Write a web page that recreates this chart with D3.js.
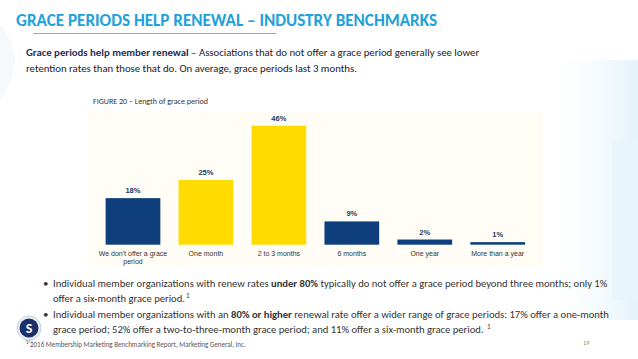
<!DOCTYPE html>
<html>
<head>
<meta charset="utf-8">
<script src="https://cdn.jsdelivr.net/npm/d3@7"></script>
<style>
  body { margin: 0; background: #fff; }
  svg { display: block; }
</style>
</head>
<body>
<svg class="chart"></svg>
<script>
// chart data
var categories = ["We don't offer a grace period", "One month", "2 to 3 months", "6 months", "One year", "More than a year"];
var shares = [18, 25, 46, 9, 2, 1];
var highlight = [false, true, true, false, false, false];

var W = 638, H = 359;
var svg = d3.select(".chart").attr("width", W).attr("height", H);
var font = "Calibri, Carlito, 'Open Sans', 'Noto Sans', sans-serif";
var lastSize = 11;

// draws a run of text pieces (some bold) one after another, scaled to fit a width
function textRun(parent, x0, y0, parts, target, size) {
    var g = parent.append("g");
    function lay(fs) {
        g.selectAll("*").remove();
        var cx = x0;
        parts.forEach(function(p) {
            var t = g.append("text").attr("x", cx).attr("y", y0).attr("font-size", fs)
                .attr("font-weight", p[1] ? "bold" : null)
                .attr("fill", p[2] || null)
                .attr("xml:space", "preserve").style("white-space", "pre").text(p[0]);
            cx += t.node().getComputedTextLength();
        });
        return cx - x0;
    }
    var w = lay(size);
    lastSize = size;
    if (target) { lastSize = size * target / w; w = lay(lastSize); }
    return x0 + w;
}

// soft background decoration
var defs = svg.append("defs");
var g1 = defs.append("linearGradient").attr("id", "rside").attr("x1", 0).attr("x2", 1);
g1.append("stop").attr("offset", 0).attr("stop-color", "#ffffff").attr("stop-opacity", 0);
g1.append("stop").attr("offset", 1).attr("stop-color", "#dcf0f9");
svg.append("rect").attr("x", 540).attr("y", 60).attr("width", 98).attr("height", 260)
    .attr("fill", "url(#rside)").attr("opacity", 0.8);
svg.append("rect").attr("x", 612).attr("y", 140).attr("width", 26).attr("height", 160)
    .attr("fill", "#e8f6fc");
svg.append("path").attr("d", "M0,25 Q30,60 0,100 Z").attr("fill", "#f5f9fc");

// title
svg.append("text").attr("x", 16).attr("y", 26)
    .attr("font-family", font).attr("font-weight", "bold").attr("font-size", 19)
    .attr("fill", "#1ea0db").attr("textLength", 421).attr("lengthAdjust", "spacingAndGlyphs")
    .text("GRACE PERIODS HELP RENEWAL \u2013 INDUSTRY BENCHMARKS");
svg.append("line").attr("x1", 33).attr("x2", 276).attr("y1", 33.5).attr("y2", 33.5)
    .attr("stroke", "#8cc63f").attr("stroke-width", 1);

// intro paragraph
var intro = svg.append("g").attr("font-family", font).attr("fill", "#222");
textRun(intro, 26, 56, [["Grace periods help member renewal", true, "#1f2f5a"],
    [" \u2013 Associations that do not offer a grace period generally see lower", false]], 454, 12.5);
textRun(intro, 26, 72, [["retention rates than those that do. On average, grace periods last 3 months.", false]], 0, lastSize);

// chart panel
svg.append("rect").attr("x", 88).attr("y", 111).attr("width", 454).attr("height", 157).attr("fill", "#fffdf5");
svg.append("text").attr("x", 93).attr("y", 103.5)
    .attr("font-family", font).attr("font-size", 7).attr("fill", "#333")
    .attr("textLength", 115).attr("lengthAdjust", "spacingAndGlyphs")
    .text("FIGURE 20 \u2013 Length of grace period");

var x = d3.scaleBand().domain(categories).range([96.5, 534.2]).paddingInner(0.25).paddingOuter(0.125);
var baseY = 244.7;
var y = d3.scaleLinear().domain([0, 46]).range([baseY, 125.7]);

var bars = svg.append("g");
bars.selectAll("rect").data(shares).enter().append("rect")
    .attr("x", function(d, i) { return x(categories[i]); })
    .attr("y", function(d) { return y(d); })
    .attr("width", x.bandwidth())
    .attr("height", function(d) { return baseY - y(d); })
    .attr("fill", function(d, i) { return highlight[i] ? "#ffdc00" : "#0e3f7c"; });

bars.selectAll("text.val").data(shares).enter().append("text")
    .attr("class", "val")
    .attr("x", function(d, i) { return x(categories[i]) + x.bandwidth() / 2; })
    .attr("y", function(d) { return y(d) - 5; })
    .attr("text-anchor", "middle")
    .attr("font-family", "Liberation Sans, Arial, sans-serif").attr("font-weight", "bold")
    .attr("font-size", 7.5).attr("fill", "#1f3864")
    .text(function(d) { return d + "%"; });

// category axis labels (wrapped like the original)
var catLines = [["We don't offer a grace", "period"], ["One month"], ["2 to 3 months"], ["6 months"], ["One year"], ["More than a year"]];
var labs = svg.append("g").attr("font-family", "Liberation Sans, Arial, sans-serif")
    .attr("font-size", 7).attr("fill", "#333").attr("text-anchor", "middle");
catLines.forEach(function(lines, i) {
    lines.forEach(function(s, j) {
        labs.append("text").attr("x", x(categories[i]) + x.bandwidth() / 2)
            .attr("y", 255.5 + j * 8.5).text(s);
    });
});

// bullets (continuation lines reuse the size of the line above)
var bullets = [
    { y: 287, parts: [["Individual member organizations with renew rates ", false], ["under 80%", true], [" typically do not offer a grace period beyond three months; only 1%", false]], len: 555, bullet: true },
    { y: 302, parts: [["offer a six-month grace period.", false]], sup: "1", len: 0 },
    { y: 318, parts: [["Individual member organizations with an ", false], ["80% or higher", true], [" renewal rate offer a wider range of grace periods: 17% offer a one-month", false]], len: 557, bullet: true },
    { y: 333, parts: [["grace period; 52% offer a two-to-three-month grace period; and 11% offer a six-month grace period. ", false]], sup: "1", len: 0 }
];
var bt = svg.append("g").attr("font-family", font).attr("fill", "#333");
bullets.forEach(function(b) {
    if (b.bullet) bt.append("text").attr("x", 43).attr("y", b.y).attr("font-size", 11).text("\u2022");
    var end = textRun(bt, 53, b.y, b.parts, b.len, b.len ? 11 : lastSize);
    if (b.sup) bt.append("text").attr("x", end + 1).attr("y", b.y - 4.5).attr("font-size", 7).text(b.sup);
});

// footnote and page number
svg.append("text").attr("x", 26).attr("y", 344).attr("font-family", font)
    .attr("font-size", 5).attr("fill", "#555").text("1");
svg.append("text").attr("x", 30).attr("y", 347).attr("font-family", font)
    .attr("font-size", 7).attr("fill", "#555")
    .text("2016 Membership Marketing Benchmarking Report, Marketing General, Inc.");
svg.append("text").attr("x", 583).attr("y", 345).attr("font-family", font)
    .attr("font-size", 6.5).attr("fill", "#888").text("19");

// logo
var logo = svg.append("g").attr("transform", "translate(29,328)");
logo.append("circle").attr("r", 12).attr("fill", "#e8eef5").attr("stroke", "#c7d3e0");
logo.append("circle").attr("r", 9.5).attr("fill", "#1b2f6b");
logo.append("text").attr("y", 4.5).attr("text-anchor", "middle").attr("font-family", font)
    .attr("font-size", 14).attr("font-weight", "bold").attr("fill", "#fff").text("S");
logo.append("path").attr("d", "M-4,13 L4,13 M0,12 L0,15").attr("stroke", "#b9c6d4").attr("stroke-width", 1);
</script>
</body>
</html>
